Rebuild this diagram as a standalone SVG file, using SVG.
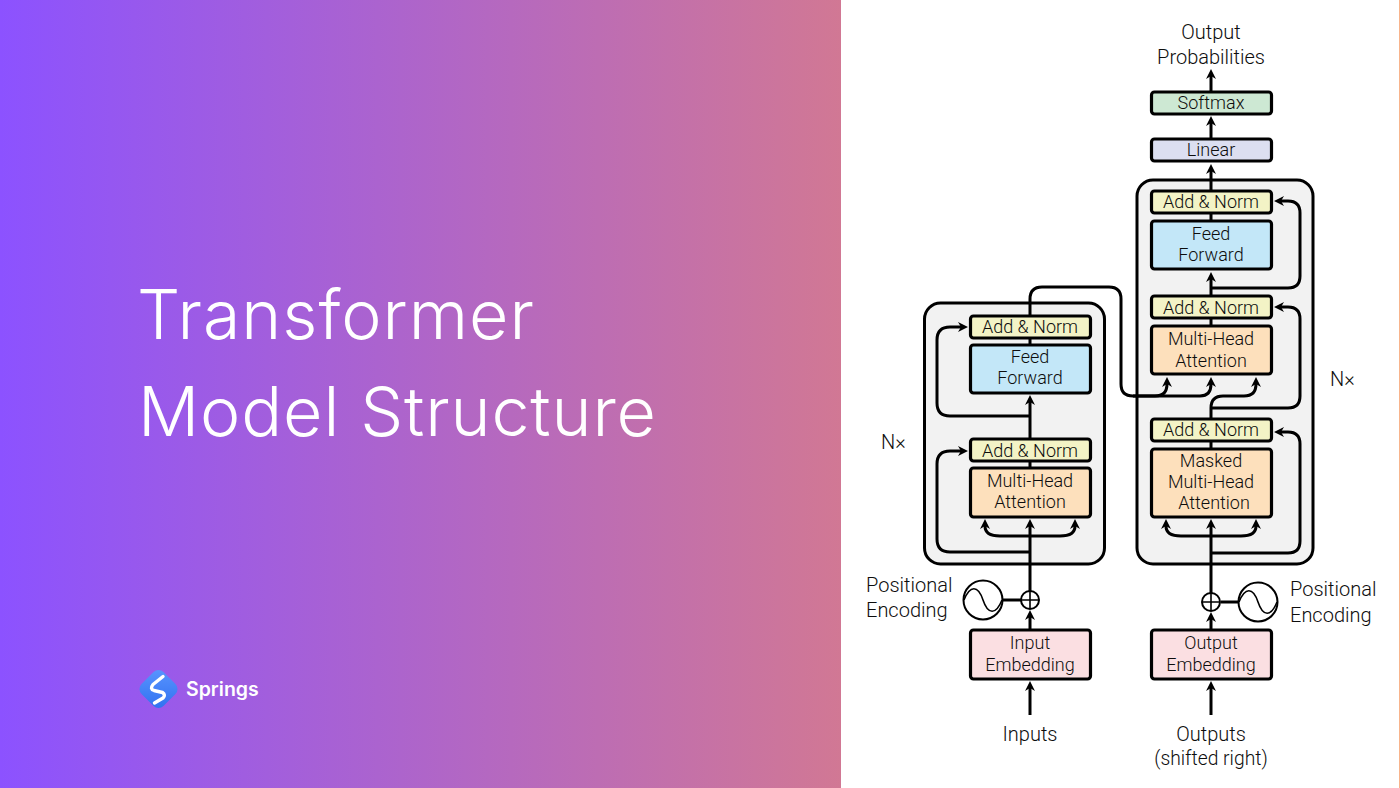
<svg xmlns="http://www.w3.org/2000/svg" width="1400" height="788" viewBox="0 0 1400 788">
<style>
.t{font-family:"Roboto","Liberation Sans",sans-serif;font-weight:300;font-size:18px;fill:#0d0d0d;text-anchor:middle}
.l{text-anchor:start;font-size:20px}
.big{font-size:20px}
.title{font-family:"Inter","Lato",sans-serif;font-weight:300;font-size:68px;fill:#fff}
.box{stroke:#000;stroke-width:3.200}
.panel{fill:#f2f2f2;stroke:#000;stroke-width:3}
.an{fill:#f3f3c6}.ff{fill:#c3e7f8}.mh{fill:#fde0bc}.em{fill:#fbdfe2}
.c{fill:none;stroke:#000;stroke-width:3}
.a{marker-end:url(#arrow)}
.thin{fill:#fff;stroke:#000;stroke-width:2}
.wave{fill:none;stroke:#000;stroke-width:1.600}
</style>
<defs>
<linearGradient id="bg" gradientUnits="userSpaceOnUse" x1="0" y1="0" x2="1400" y2="0"><stop offset="0" stop-color="#8c52ff"/><stop offset="1" stop-color="#ff914d"/></linearGradient>
<linearGradient id="logo" x1="0" y1="0" x2="1" y2="1"><stop offset="0" stop-color="#5a96ff"/><stop offset="1" stop-color="#2f6ff0"/></linearGradient>
<marker id="arrow" markerUnits="userSpaceOnUse" markerWidth="11" markerHeight="11" viewBox="0 0 11 11" refX="3" refY="5.500" orient="auto"><path d="M0 .5L3 5.500L0 10.500L10 5.500Z" fill="#000"/></marker>
</defs>
<rect width="841" height="788" fill="url(#bg)"/>
<rect x="841" width="558" height="788" fill="#fff"/>
<rect x="1399" width="1" height="788" fill="#f8b48c"/>
<g id="title">
<text class="title" x="137" y="339" textLength="397" lengthAdjust="spacing">Transformer</text>
<text class="title" x="138" y="436" textLength="518" lengthAdjust="spacing">Model Structure</text>
</g>
<g id="logo-mark">
<rect x="143" y="673.500" width="31" height="31" rx="7" transform="rotate(45 158.500 689)" fill="url(#logo)"/>
<path d="M163 676.500L153 684.500Q149.500 689 154 690.500L162.500 692.500Q166 695 163 698L154.500 703" fill="none" stroke="#fff" stroke-width="3.400" stroke-linecap="round" stroke-linejoin="round"/>
<text x="186" y="696" font-family="Inter,'Noto Sans',sans-serif" font-weight="600" font-size="19.500" fill="#fff">Springs</text>
</g>
<g id="encoder-panel"><rect class="panel" x="924.500" y="303" width="180" height="261" rx="16"/></g>
<g id="decoder-panel"><rect class="panel" x="1137" y="180" width="176" height="384" rx="16"/></g>
<g id="connectors">
<path class="c a" d="M1030 715V688"/>
<path class="c a" d="M1030 630V617"/>
<path class="c" d="M1003 600H1021"/>
<path class="c a" d="M1030 591V526"/>
<path class="c a" d="M1030 536H1000Q985 536 985 526"/>
<path class="c a" d="M1030 536H1060Q1075 536 1075 526"/>
<path class="c a" d="M1030 552H950Q937 552 937 539V464Q937 451 950 451H961"/>
<path class="c" d="M1030 461V468"/>
<path class="c a" d="M1030 439V402"/>
<path class="c a" d="M1030 416H950Q937 416 937 403V340Q937 327 950 327H961"/>
<path class="c" d="M1030 338V345"/>
<path class="c" d="M1030 315V299Q1030 287 1042 287H1109Q1121 287 1121 299V384Q1121 396 1133 396H1155"/>
<path class="c a" d="M1133 396H1155Q1167 396 1167 384"/>
<path class="c a" d="M1155 396H1200Q1211 396 1211 384"/>
<path class="c a" d="M1211 418V408Q1211 396 1223 396H1244Q1256 396 1256 384"/>
<path class="c a" d="M1211 715V688"/>
<path class="c a" d="M1211 630V619"/>
<path class="c" d="M1239 602H1221"/>
<path class="c a" d="M1211 593V526"/>
<path class="c a" d="M1211 536H1181Q1166 536 1166 526"/>
<path class="c a" d="M1211 536H1241Q1256 536 1256 526"/>
<path class="c a" d="M1211 553H1288Q1300 553 1300 541V444Q1300 432 1288 432H1281"/>
<path class="c" d="M1211 441V448"/>
<path class="c a" d="M1211 408H1288Q1300 408 1300 396V319Q1300 307 1288 307H1281"/>
<path class="c" d="M1211 318V326"/>
<path class="c a" d="M1211 296V279"/>
<path class="c a" d="M1211 288H1288Q1300 288 1300 276V213Q1300 201 1288 201H1281"/>
<path class="c" d="M1211 213V221"/>
<path class="c a" d="M1211 191V171"/>
<path class="c a" d="M1211 138V123"/>
<path class="c a" d="M1211 91V76"/>
</g>
<g id="enc-addnorm-2"><rect class="box an" x="970.500" y="316" width="120" height="22" rx="3"/><text class="t" x="1030" y="333">Add &amp; Norm</text></g>
<g id="enc-feedforward"><rect class="box ff" x="970.500" y="345" width="120" height="48" rx="3"/><text class="t" x="1030" y="363">Feed</text><text class="t" x="1030" y="384">Forward</text></g>
<g id="enc-addnorm-1"><rect class="box an" x="970.500" y="439" width="120" height="22" rx="3"/><text class="t" x="1030" y="457">Add &amp; Norm</text></g>
<g id="enc-attention"><rect class="box mh" x="970.500" y="468" width="120" height="49" rx="3"/><text class="t" x="1030" y="487">Multi-Head</text><text class="t" x="1030" y="508">Attention</text></g>
<g id="input-embedding"><rect class="box em" x="970.500" y="630" width="120" height="49" rx="3"/><text class="t" x="1030" y="649">Input</text><text class="t" x="1030" y="671">Embedding</text></g>
<g id="enc-plus"><circle class="thin" cx="1030" cy="600" r="9"/><path d="M1021 600H1039M1030 591V609" stroke="#000" stroke-width="1.600"/></g>
<g id="enc-wave"><circle class="thin" cx="983" cy="600" r="19.500"/><path class="wave" d="M964 600C970 585 978 585 983 600C988 615 996 615 1002 600"/></g>
<g id="softmax"><rect class="box" fill="#cde8d3" x="1151.500" y="92" width="120" height="22" rx="3"/><text class="t" x="1211" y="109">Softmax</text></g>
<g id="linear"><rect class="box" fill="#dcdff1" x="1151.500" y="139" width="120" height="22" rx="3"/><text class="t" x="1211" y="156">Linear</text></g>
<g id="dec-addnorm-3"><rect class="box an" x="1151.500" y="191" width="120" height="22" rx="3"/><text class="t" x="1211" y="208">Add &amp; Norm</text></g>
<g id="dec-feedforward"><rect class="box ff" x="1151.500" y="221" width="120" height="48" rx="3"/><text class="t" x="1211" y="240">Feed</text><text class="t" x="1211" y="261">Forward</text></g>
<g id="dec-addnorm-2"><rect class="box an" x="1151.500" y="296" width="120" height="22" rx="3"/><text class="t" x="1211" y="314">Add &amp; Norm</text></g>
<g id="dec-attention"><rect class="box mh" x="1151.500" y="326" width="120" height="48" rx="3"/><text class="t" x="1211" y="345">Multi-Head</text><text class="t" x="1211" y="367">Attention</text></g>
<g id="dec-addnorm-1"><rect class="box an" x="1151.500" y="419" width="120" height="22" rx="3"/><text class="t" x="1211" y="436">Add &amp; Norm</text></g>
<g id="dec-masked"><rect class="box mh" x="1151.500" y="449" width="120" height="68" rx="3"/><text class="t" x="1211" y="467">Masked</text><text class="t" x="1211" y="488">Multi-Head</text><text class="t" x="1214" y="509">Attention</text></g>
<g id="output-embedding"><rect class="box em" x="1151.500" y="630" width="120" height="49" rx="3"/><text class="t" x="1211" y="649">Output</text><text class="t" x="1211" y="671">Embedding</text></g>
<g id="dec-plus"><circle class="thin" cx="1211" cy="602" r="9"/><path d="M1202 602H1220M1211 593V611" stroke="#000" stroke-width="1.600"/></g>
<g id="dec-wave"><circle class="thin" cx="1258" cy="602" r="19.500"/><path class="wave" d="M1239 602C1245 587 1253 587 1258 602C1263 617 1271 617 1277 602"/></g>
<g id="labels">
<text class="t big" x="1211" y="39">Output</text><text class="t big" x="1211" y="64">Probabilities</text>
<text class="t l" x="866" y="592">Positional</text><text class="t l" x="866" y="617">Encoding</text>
<text class="t l" x="1290" y="596">Positional</text><text class="t l" x="1290" y="622">Encoding</text>
<text class="t l" x="881" y="449">N×</text><text class="t l" x="1330" y="386">N×</text>
<text class="t big" x="1030" y="741">Inputs</text>
<text class="t big" x="1211" y="741">Outputs</text><text class="t" style="font-size:19.300px" x="1211" y="765">(shifted right)</text>
</g>
</svg>
